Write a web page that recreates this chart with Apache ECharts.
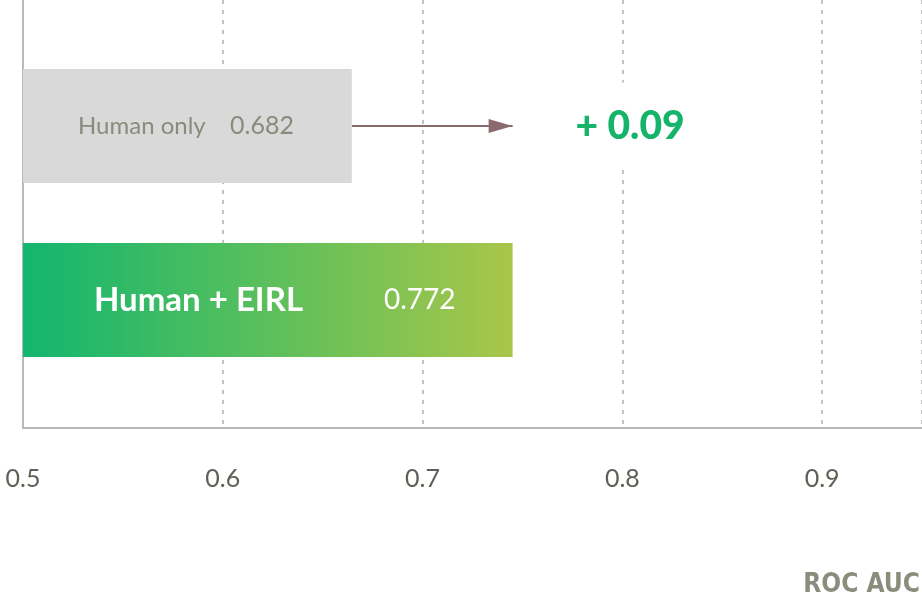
<!DOCTYPE html>
<html>
<head>
<meta charset="utf-8">
<script src="https://cdn.jsdelivr.net/npm/echarts@6/dist/echarts.min.js"></script>
<style>
  html, body { margin: 0; padding: 0; background: #fff; }
  #chart { width: 922px; height: 600px; }
</style>
</head>
<body>
<div id="chart"></div>
<script>
// data
const categories = ['Human only', 'Human + EIRL'];
const aucValues = [0.682, 0.772];
const tickValues = [0.5, 0.6, 0.7, 0.8, 0.9];
const axisTitle = 'ROC AUC';

const chartDom = document.getElementById('chart');
const myChart = echarts.init(chartDom);

const gain = (aucValues[1] - aucValues[0]).toFixed(2);
const gridColor = '#c2c2c2';
const axisColor = '#b9b9b9';
// triangle with its tip at the centre of the symbol box, so it ends at the value
const arrowHead = 'path://M7,0L7,0M7,24L14,48L0,48Z';

const option = {
    animation: false,
    title: {
        text: axisTitle,
        right: 2,
        top: 572,
        padding: 0,
        textStyle: {
            fontFamily: '"Liberation Sans Narrow", "DejaVu Sans Condensed", sans-serif',
            fontWeight: 'bold',
            fontSize: 26,
            color: '#8b8c7c'
        }
    },
    grid: [
        // axes + gridlines
        { left: 23, right: -6, top: 0, height: 428 },
        // bars
        { left: 23, right: 2, top: 39, height: 348 }
    ],
    xAxis: [
        {
            gridIndex: 0,
            type: 'value',
            min: tickValues[0],
            max: 0.95,
            interval: 0.1,
            axisLine: { show: true, lineStyle: { color: axisColor, width: 2 } },
            axisTick: { show: false },
            axisLabel: {
                margin: 38,
                showMaxLabel: false,
                fontFamily: 'Lato, sans-serif',
                fontSize: 25,
                color: '#5e6056',
                formatter: v => tickValues.includes(Math.round(v * 10) / 10) ? v.toFixed(1) : ''
            },
            splitLine: {
                show: true,
                lineStyle: { color: gridColor, width: 2, type: [4, 6] }
            }
        },
        {
            gridIndex: 1,
            type: 'value',
            min: 0.498,
            max: 1.0,
            show: false
        }
    ],
    yAxis: [
        {
            gridIndex: 0,
            type: 'value',
            min: 0,
            max: 1,
            axisLine: { show: true, lineStyle: { color: axisColor, width: 2 } },
            axisTick: { show: false },
            axisLabel: { show: false },
            splitLine: { show: false }
        },
        {
            gridIndex: 1,
            type: 'category',
            inverse: true,
            data: categories,
            show: false
        }
    ],
    series: [
        {
            type: 'bar',
            xAxisIndex: 1,
            yAxisIndex: 1,
            barWidth: 114,
            z: 5,
            data: [
                {
                    value: aucValues[0],
                    itemStyle: { color: '#d9d9d9' },
                    label: {
                        show: true,
                        position: 'insideLeft',
                        distance: 55,
                        formatter: p => '{n|' + p.name + '}{v|' + p.value.toFixed(3) + '}',
                        rich: {
                            n: { width: 152, fontFamily: 'Lato, sans-serif', fontSize: 24, color: '#8a8b7d' },
                            v: { fontFamily: 'Lato, sans-serif', fontSize: 25, color: '#8a8b7d' }
                        }
                    }
                },
                {
                    value: aucValues[1],
                    itemStyle: {
                        color: new echarts.graphic.LinearGradient(0, 0, 1, 0, [
                            { offset: 0, color: '#12b66f' },
                            { offset: 0.5, color: '#5bbf5c' },
                            { offset: 1, color: '#a9c64a' }
                        ])
                    },
                    label: {
                        show: true,
                        position: 'insideLeft',
                        distance: 71,
                        formatter: p => '{n|' + p.name + '}{v|' + p.value.toFixed(3) + '}',
                        rich: {
                            n: { width: 290, fontFamily: 'Lato, sans-serif', fontWeight: 'bold', fontSize: 33, color: '#ffffff' },
                            v: { fontFamily: 'Lato, sans-serif', fontSize: 28, color: '#ffffff' }
                        }
                    }
                }
            ],
            markLine: {
                silent: true,
                symbol: ['none', arrowHead],
                symbolSize: [14, 48],
                lineStyle: { color: '#8a6a6c', width: 2, type: 'solid' },
                label: {
                    show: true,
                    position: 'end',
                    distance: 49,
                    formatter: '+ ' + gain,
                    fontFamily: 'Lato, sans-serif',
                    fontWeight: 900,
                    fontSize: 39,
                    color: '#16b46b',
                    backgroundColor: '#ffffff',
                    padding: [24, 14]
                },
                data: [
                    [
                        { coord: [aucValues[0], categories[0]] },
                        { coord: [aucValues[1], categories[0]] }
                    ]
                ]
            }
        }
    ]
};

option && myChart.setOption(option);
</script>
</body>
</html>
